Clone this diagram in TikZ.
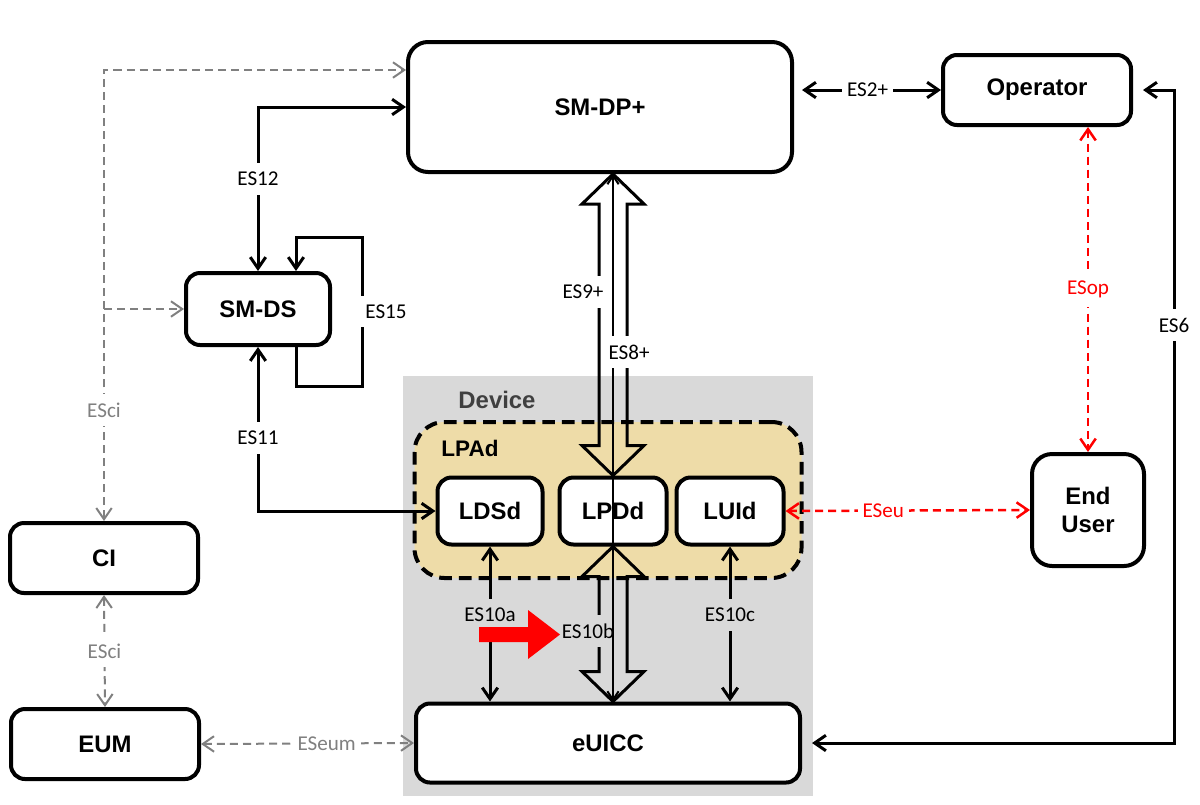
\documentclass[tikz,border=0pt]{standalone}
\usepackage{fontspec}
\setmainfont{Liberation Sans}
\newfontfamily\lblfont{Carlito}
\usetikzlibrary{arrows.meta,calc}

\newlength\px
\setlength\px{0.025cm}
\definecolor{devgray}{RGB}{217,217,217}
\definecolor{lpadtan}{RGB}{238,220,168}
\definecolor{esgray}{RGB}{128,128,128}
\definecolor{devtext}{RGB}{64,64,64}

% hollow double arrow between two tips (top, bottom)
\newcommand\hollowarrow[2]{%
  \draw[hollow] (#1) -- ($(#1)+(31,30)$) -- ($(#1)+(14,30)$) -- ($(#2)+(14,-30)$)
    -- ($(#2)+(31,-30)$) -- (#2) -- ($(#2)+(-31,-30)$) -- ($(#2)+(-14,-30)$)
    -- ($(#1)+(-14,30)$) -- ($(#1)+(-31,30)$) -- cycle;}

\begin{document}
\begin{tikzpicture}[x=1\px, y=-1\px,
    box/.style={rectangle, draw, line width=4\px, rounded corners=14\px, fill=white, align=center, font=\fontsize{17}{20}\selectfont\bfseries},
    arrow/.style={<->, >={Straight Barb[length=8pt,width=11pt]}, line width=3\px},
    garrow/.style={arrow, esgray, line width=2\px, dash pattern=on 5.7pt off 3.6pt},
    rarrow/.style={arrow, red, line width=2.5\px, dash pattern=on 5.7pt off 3.6pt},
    thinarrow/.style={arrow, line width=2\px, >={Straight Barb[length=6pt,width=8pt]}},
    hollow/.style={line width=3\px, line join=miter},
    lbl/.style={fill=white, inner xsep=5\px, inner ysep=9\px, font=\lblfont\fontsize{15}{18}\selectfont}
  ]
    \useasboundingbox (0,0) rectangle (1200,804);

    % Device
    \node[fill=devgray, minimum width=410\px, minimum height=420\px, inner sep=0] (device) at (608,586) {};
    \node[font=\fontsize{17}{20}\selectfont\bfseries, text=devtext] (devicelbl) at (497,400) {Device};
    \node[draw, fill=lpadtan, line width=4\px, dash pattern=on 9pt off 5pt, rounded corners=30\px,
          minimum width=387\px, minimum height=156\px] (lpad) at (608,500) {};
    \node[font=\fontsize{16}{19}\selectfont\bfseries] (lpadlbl) at (470,448) {LPAd};

    % Boxes
    \node[box, minimum width=384\px, minimum height=130\px, rounded corners=20\px] (smdp) at (600,107) {SM-DP+};
    \node[box, minimum width=188\px, minimum height=70\px] (operator) at (1037,90) {Operator};
    \node[box, minimum width=144\px, minimum height=72\px] (smds) at (258,309) {SM-DS};
    \node[box, minimum width=188\px, minimum height=70\px] (ci) at (104,558) {CI};
    \node[box, minimum width=188\px, minimum height=70\px] (eum) at (105,744) {EUM};
    \node[box, minimum width=112\px, minimum height=112\px, rounded corners=20\px] (enduser) at (1088,510) {End\\User};
    \node[box, minimum width=105\px, minimum height=67\px] (ldsd) at (490,511) {LDSd};
    \node[box, minimum width=107\px, minimum height=67\px] (lpdd) at (613,511) {LPDd};
    \node[box, minimum width=107\px, minimum height=67\px] (luid) at (730,511) {LUId};
    \node[box, minimum width=384\px, minimum height=79\px] (euicc) at (608,743) {eUICC};

    % Arrows
    \draw[garrow] (ci.north) |- node[lbl, text=esgray, pos=0.123] {ESci} ($(smdp.north west)+(0,30)$);
    \draw[garrow, ->] (ci.north |- smds.west) -- (smds.west);
    \draw[arrow] (smdp.west) -| node[lbl, pos=0.72] {ES12} (smds.north);
    \draw[arrow, ->] ($(smds.south)+(38,0)$) -- ++(0,39) -- ++(66,0)
        -- node[lbl, xshift=24\px, inner xsep=9\px] {ES15} ++(0,-149) -- ++(-66,0) -- ($(smds.north)+(38,0)$);
    \draw[arrow] (smds.south) |- node[lbl, pos=0.277] {ES11} (ldsd.west);
    \draw[arrow, shorten <=8\px] (smdp.east |- operator.west) -- node[lbl] {ES2+} (operator.west);
    \draw[arrow, shorten <=10\px, shorten >=10\px] (operator.east) -- ++(41,0) |- node[lbl, pos=0.18] {ES6} (euicc.east);
    \draw[rarrow] (operator.south -| enduser.north) -- node[lbl, text=red] {ESop} (enduser.north);
    \draw[rarrow] (luid.east) -- node[lbl, text=red, pos=0.4] {ESeu} (enduser.west);
    \draw[garrow] (ci.south) -- node[lbl, text=esgray] {ESci} (eum.north);
    \draw[garrow] (eum.east) -- node[lbl, text=esgray, pos=0.59] {ESeum} (euicc.west);
    \draw[arrow] (ldsd.south) -- node[lbl, fill=devgray, pos=0.44] {ES10a} (ldsd.south |- euicc.north);
    \draw[arrow] (luid.south) -- node[lbl, fill=devgray, pos=0.44] {ES10c} (luid.south |- euicc.north);

    % ES9+ / ES8+ / ES10b
    \coordinate (dptip) at (smdp.south -| lpdd.north);
    \coordinate (eutip) at (euicc.north -| lpdd.south);
    \hollowarrow{dptip}{lpdd.north}
    \hollowarrow{lpdd.south}{eutip}
    \node[lbl, fill=devgray] (es10b) at (588,631) {ES10b};
    \draw[thinarrow] (dptip) -- (eutip);
    \node[lbl] (es9) at (583,292) {ES9+};
    \node[lbl] (es8) at (629,352) {ES8+};

    % red marker
    \fill[red] (479,627) -- (528,627) -- (528,610) -- (560,634.5) -- (528,659) -- (528,642) -- (479,642) -- cycle;
\end{tikzpicture}
\end{document}
